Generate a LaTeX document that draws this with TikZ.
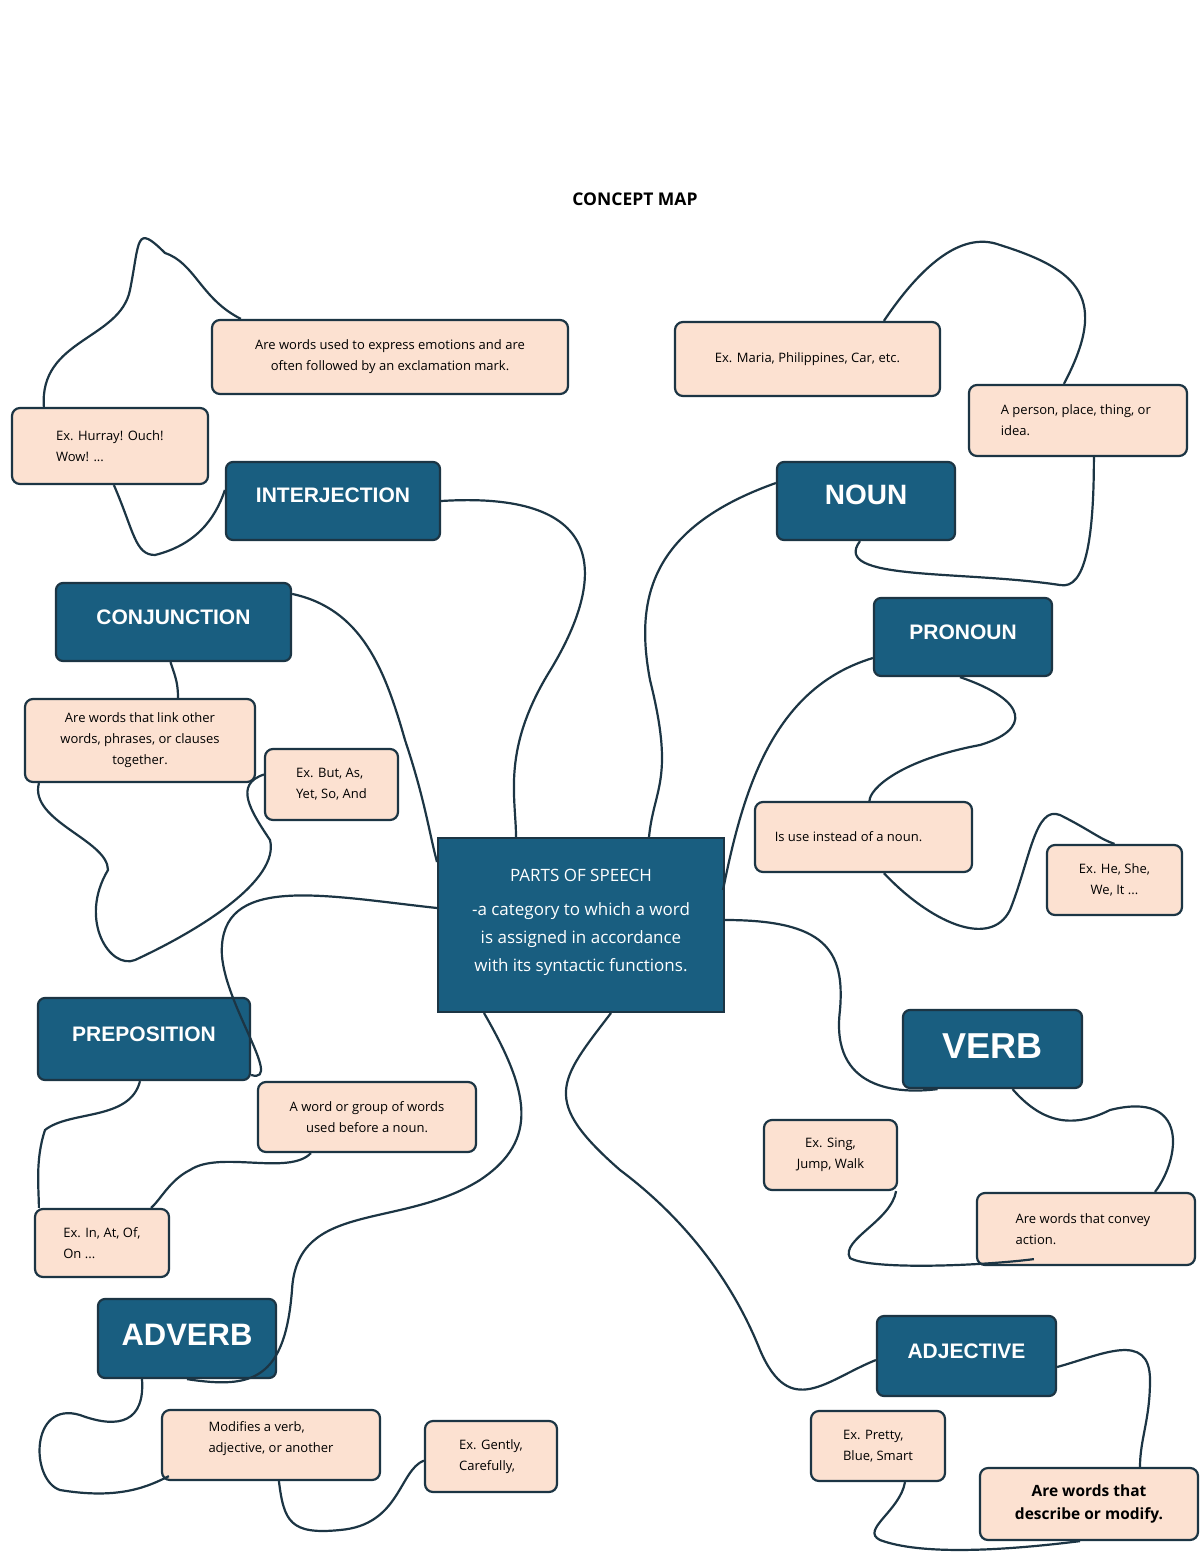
\documentclass[tikz,border=0pt]{standalone}
\usepackage{fontspec}
\setmainfont{Open Sans}
\newfontfamily\headf{Liberation Sans}
\usetikzlibrary{calc}
\definecolor{hb}{HTML}{195E80}
\definecolor{ln}{HTML}{1C3544}
\definecolor{pe}{HTML}{FCE1D1}
\tikzset{
  hd/.style={draw=ln,line width=2.2pt,fill=hb,text=white,rounded corners=7pt,font=\headf\bfseries\fontsize{21}{26}\selectfont,inner sep=0pt,anchor=center},
  bx/.style={draw=ln,line width=2.2pt,fill=pe,rounded corners=8pt,text=black,font=\fontsize{13}{21}\selectfont,inner sep=0pt,anchor=center,align=center},
  cn/.style={draw=ln,line width=2.2pt},
}
\begin{document}
\begin{tikzpicture}[x=1pt,y=-1pt]
\useasboundingbox[fill=white] (0,0) rectangle (1200,1553);
\node[font=\bfseries\fontsize{17.5}{20}\selectfont] (title) at (635,199) {CONCEPT MAP};
% heading nodes
\node[hd,minimum width=214,minimum height=78,text depth=12pt] (interj) at (333,501) {INTERJECTION};
\node[hd,minimum width=178,minimum height=78,font=\headf\bfseries\fontsize{28}{32}\selectfont,text depth=12pt] (noun) at (866,501) {NOUN};
\node[hd,minimum width=235,minimum height=78,text depth=10pt] (conj) at (173.5,622) {CONJUNCTION};
\node[hd,minimum width=178,minimum height=78,text depth=10pt] (pron) at (963,637) {PRONOUN};
\node[hd,minimum width=212,minimum height=82,text depth=10pt] (prep) at (144,1039) {PREPOSITION};
\node[hd,minimum width=179,minimum height=78,font=\headf\bfseries\fontsize{36}{40}\selectfont,text depth=6pt] (verb) at (992.5,1049) {VERB};
\node[hd,minimum width=178,minimum height=79,font=\headf\bfseries\fontsize{31}{36}\selectfont,text depth=8pt] (adv) at (187,1338.5) {ADVERB};
\node[hd,minimum width=179,minimum height=80,text depth=10pt] (adj) at (966.5,1356) {ADJECTIVE};
\node[draw=ln,line width=2pt,fill=hb,text=white,minimum width=286,minimum height=174,inner sep=0pt,align=center,font=\fontsize{17}{28}\selectfont,text depth=10pt] (center) at (581,925)
 {PARTS OF SPEECH\\[6pt] -a category to which a word\\ is assigned in accordance\\ with its syntactic functions.};
% description boxes
\node[bx,minimum width=356,minimum height=74] (idesc) at (390,357) {Are words used to express emotions and are\\ often followed by an exclamation mark.};
\node[bx,minimum width=196,minimum height=76,align=left] (iex) at (110,446) {Ex. Hurray! Ouch!\\ Wow! ...\hspace*{60pt}};
\node[bx,minimum width=265,minimum height=74] (nex) at (807.5,359) {Ex. Maria, Philippines, Car, etc.};
\node[bx,minimum width=218,minimum height=71,align=left] (ndesc) at (1078,420.5) {A person, place, thing, or\\ idea.\hspace*{125pt}};
\node[bx,minimum width=230,minimum height=83] (cdesc) at (140,740.5) {Are words that link other\\ words, phrases, or clauses\\ together.};
\node[bx,minimum width=133,minimum height=71,align=left] (cex) at (331.5,784.5) {Ex. But, As,\\ Yet, So, And};
\node[bx,minimum width=217,minimum height=70] (pdesc) at (863.5,837) {Is use instead of a noun.\hspace*{30pt}};
\node[bx,minimum width=135,minimum height=70] (pex) at (1114.5,880) {Ex. He, She,\\ We, It ...};
\node[bx,minimum width=218,minimum height=70] (prdesc) at (367,1117) {A word or group of words\\ used before a noun.};
\node[bx,minimum width=134,minimum height=68,align=left] (prex) at (102,1243) {Ex. In, At, Of,\\ On ...};
\node[bx,minimum width=133,minimum height=70] (vex) at (830.5,1155) {Ex. Sing,\\ Jump, Walk};
\node[bx,minimum width=218,minimum height=72,align=left] (vdesc) at (1086,1229) {Are words that convey\\ action.\hspace*{100pt}};
\node[bx,minimum width=218,minimum height=70,align=left] (adesc) at (271,1445) {Modifies a verb,\\ adjective, or another\\[-6pt] \hspace*{0pt}};
\node[bx,minimum width=132,minimum height=71,align=left] (aex) at (491,1456.5) {Ex. Gently,\\ Carefully,};
\node[bx,minimum width=134,minimum height=70,align=left] (jex) at (878,1446) {Ex. Pretty,\\ Blue, Smart};
\node[bx,minimum width=218,minimum height=72,font=\fontsize{15.5}{23}\selectfont\bfseries] (jdesc) at (1089,1504) {Are words that\\ describe or modify.};
% main connectors
\draw[cn] (interj.east) .. controls +(160,-10) and +(60,-100) .. ($(interj.east)!0.5!(center.north)+(40,0)$) .. controls +(-50,80) and +(0,-40) .. ($(center.north west)+(79,0)$);
\draw[cn] ($(noun.west)+(0,-18)$) .. controls +(-127,45) and +(-15,-80) .. (650,680) .. controls +(25,100) and +(5,-50) .. ($(center.north west)+(212,0)$);
\draw[cn] ($(conj.north east)+(0,12)$) .. controls +(70,15) and +(-20,-70) .. (405,740) .. controls +(20,60) and +(-8,-30) .. ($(center.north west)+(0,25)$);
\draw[cn] ($(pron.west)+(0,21)$) .. controls +(-100,30) and +(20,-100) .. ($(center.east)+(-2,-35)$);
\draw[cn] ($(center.west)+(0,-17)$) .. controls +(-110,-12) and +(5,-70) .. (222,945) .. controls +(-5,50) and +(35,10) .. ($(prep.east)+(0,36)$);
\draw[cn] ($(center.east)+(0,-5)$) .. controls +(100,0) and +(5,-60) .. (840,1010) .. controls +(-10,80) and +(-40,5) .. ($(verb.south)+(-55,0)$);
\draw[cn] ($(center.south west)+(47,0)$) .. controls +(45,78) and +(60,-40) .. (480,1180) .. controls +(-80,50) and +(5,-90) .. (292,1290) .. controls +(-7,90) and +(65,10) .. ($(adv.south)+(0,0)$);
\draw[cn] ($(center.south west)+(174,0)$) .. controls +(-52,68) and +(-80,-70) .. (620,1170) .. controls +(80,60) and +(-20,-50) .. (760,1350) .. controls +(30,70) and +(-50,20) .. ($(adj.west)+(0,4)$);
% sub connectors
\draw[cn] ($(iex.north west)+(33,0)$) .. controls +(-5,-68) and +(-10,50) .. (130,290) .. controls +(10,-50) and +(-30,-30) .. (165,253) .. controls +(30,10) and +(-40,-20) .. ($(idesc.north west)+(30,0)$);
\draw[cn] ($(iex.south west)+(103,0)$) .. controls +(20,46) and +(-20,0) .. (155,555) .. controls +(40,-10) and +(-10,30) .. ($(interj.west)+(0,-11)$);
\draw[cn] ($(nex.north west)+(210,0)$) .. controls +(35,-52) and +(-40,-15) .. (1000,245) .. controls +(80,25) and +(45,-85) .. ($(ndesc.north west)+(96,0)$);
\draw[cn] ($(ndesc.south west)+(126,0)$) .. controls +(0,84) and +(25,5) .. (1060,585) .. controls +(-100,-15) and +(-30,40) .. ($(noun.south)+(-6,0)$);
\draw[cn] ($(conj.south)+(-3,0)$) .. controls +(5,15) and +(0,-15) .. ($(cdesc.north)+(38,0)$);
\draw[cn] ($(cdesc.south west)+(15,0)$) .. controls +(-10,38) and +(0,-30) .. (108,870) .. controls +(-30,50) and +(-25,10) .. (135,960) .. controls +(65,-30) and +(10,40) .. (270,840) .. controls +(-20,-30) and +(-30,10) .. ($(cex.west)+(0,-10)$);
\draw[cn] ($(pron.south)+(-3,0)$) .. controls +(70,24) and +(50,-15) .. (980,745) .. controls +(-80,15) and +(0,-12) .. ($(pdesc.north)+(6,0)$);
\draw[cn] ($(pdesc.south west)+(130,0)$) .. controls +(45,48) and +(-20,40) .. (1010,910) .. controls +(20,-50) and +(-25,-10) .. (1060,815) .. controls +(30,15) and +(-15,-5) .. ($(pex.north)+(0,0)$);
\draw[cn] ($(prep.south)+(-4,0)$) .. controls +(-10,40) and +(25,-20) .. (45,1130) .. controls +(-10,30) and +(0,-19) .. ($(prex.north west)+(5,0)$);
\draw[cn] ($(prdesc.south west)+(54,0)$) .. controls +(-22,23) and +(30,-20) .. (190,1170) .. controls +(-20,10) and +(10,-9) .. ($(prex.north east)+(-19,0)$);
\draw[cn] ($(verb.south)+(20,0)$) .. controls +(28,32) and +(-40,20) .. (1110,1110) .. controls +(80,-20) and +(25,-33) .. ($(vdesc.north)+(69,0)$);
\draw[cn] ($(vex.south east)+(-2,0)$) .. controls +(-5,30) and +(-10,-18) .. (850,1258) .. controls +(20,12) and +(-55,7) .. ($(vdesc.south west)+(58,-7)$);
\draw[cn] ($(adv.south)+(-45,0)$) .. controls +(3,42) and +(40,15) .. (80,1415) .. controls +(-50,-15) and +(-30,-10) .. (60,1490) .. controls +(60,10) and +(-20,10) .. ($(adesc.south west)+(8,-5)$);
\draw[cn] ($(adesc.south west)+(118,0)$) .. controls +(5,40) and +(-50,5) .. (340,1530) .. controls +(60,-5) and +(-25,10) .. ($(aex.west)+(0,4)$);
\draw[cn] ($(adj.east)+(0,11)$) .. controls +(44,-12) and +(0,-50) .. (1150,1380) .. controls +(0,40) and +(0,-28) .. ($(jdesc.north)+(51,0)$);
\draw[cn] ($(jex.south)+(27,0)$) .. controls +(-5,29) and +(-20,-10) .. (880,1540) .. controls +(40,15) and +(-80,10) .. ($(jdesc.south)+(-9,0)$);
\end{tikzpicture}
\end{document}
